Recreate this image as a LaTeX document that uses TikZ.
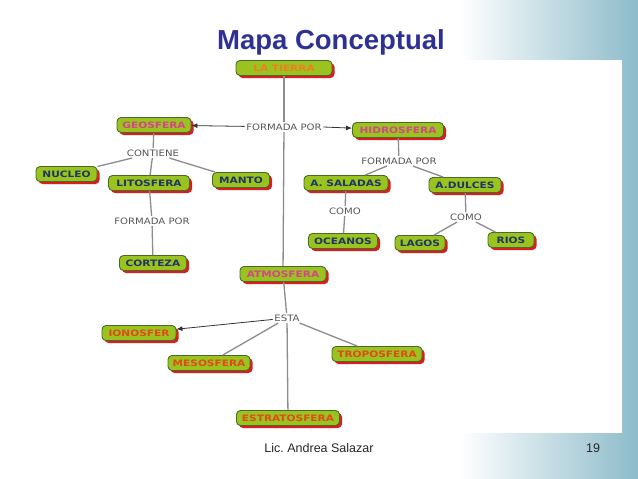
\documentclass[tikz,border=0pt]{standalone}
\usepackage{fontspec}
\setmainfont{Liberation Sans}
\newfontfamily\boxfont[FakeStretch=1.2]{DejaVu Sans}
\newfontfamily\labfont[FakeStretch=1.15]{DejaVu Sans}
\usetikzlibrary{shadows,arrows.meta}
\definecolor{boxfill}{HTML}{9BC31F}
\definecolor{boxline}{HTML}{4A6A2A}
\definecolor{shred}{HTML}{D81E1E}
\definecolor{tpink}{HTML}{D6438F}
\definecolor{tnavy}{HTML}{1E3566}
\definecolor{torange}{HTML}{E2481C}
\definecolor{tlorange}{HTML}{F07E20}
\definecolor{titleblue}{HTML}{2E3192}
\definecolor{teal1}{HTML}{8DBBCA}
\definecolor{lingray}{HTML}{8C8C8C}
\definecolor{labgray}{HTML}{555555}
\frenchspacing
\begin{document}
\begin{tikzpicture}[x=1pt,y=-1pt,
  cbox/.style={draw=boxline, line width=0.9pt, fill=boxfill, rounded corners=4pt,
    minimum height=15pt, inner sep=0pt,
    font=\boxfont\bfseries\fontsize{8.8}{10}\selectfont,
    drop shadow={shadow xshift=2.5pt, shadow yshift=-2.5pt, fill=shred, opacity=1}},
  lbl/.style={font=\labfont\fontsize{8.8}{10}\selectfont, text=labgray, inner sep=1.5pt},
  conn/.style={draw=lingray, line width=1.3pt},
  arr/.style={draw=black!80, line width=0.8pt, -{Latex[length=6pt,width=5pt]}}
]
\useasboundingbox (0,0) rectangle (638,479);
% background
\shade[left color=white, right color=teal1] (460,0) rectangle (638,479);
\fill[white] (0,60) rectangle (622,433);
\node[anchor=base, text=titleblue, font=\bfseries\fontsize{27.5}{31}\selectfont] (title) at (331,49) {Mapa Conceptual};
\node[anchor=base, text=black!85, font=\fontsize{12.5}{14}\selectfont] (author) at (319,452) {Lic. Andrea Salazar};
\node[anchor=base, text=black!85, font=\fontsize{12.5}{14}\selectfont] (page) at (593,452) {19};

% concept boxes
\node[cbox, minimum width=96pt, text=tlorange] (tierra) at (284,68) {LA TIERRA};
\node[cbox, minimum width=74pt, text=tpink] (geo) at (154,125) {GEOSFERA};
\node[cbox, minimum width=91pt, text=tpink] (hidro) at (398,130) {HIDROSFERA};
\node[cbox, minimum width=61pt, text=tnavy] (nucleo) at (66.5,174) {NUCLEO};
\node[cbox, minimum width=81pt, text=tnavy] (lito) at (149,183) {LITOSFERA};
\node[cbox, minimum width=57pt, text=tnavy] (manto) at (241,180) {MANTO};
\node[cbox, minimum width=67pt, text=tnavy] (corteza) at (153,263) {CORTEZA};
\node[cbox, minimum width=86pt, text=tpink] (atmos) at (283,274) {ATMOSFERA};
\node[cbox, minimum width=84pt, text=tnavy] (saladas) at (346,183) {A. SALADAS};
\node[cbox, minimum width=72pt, text=tnavy] (dulces) at (465,185) {A.DULCES};
\node[cbox, minimum width=69pt, text=tnavy] (oceanos) at (343,241) {OCEANOS};
\node[cbox, minimum width=50pt, text=tnavy] (lagos) at (420,243) {LAGOS};
\node[cbox, minimum width=46pt, text=tnavy] (rios) at (511,240) {RIOS};
\node[cbox, minimum width=74pt, text=torange] (iono) at (139,333) {IONOSFER};
\node[cbox, minimum width=82pt, text=torange] (meso) at (209,363) {MESOSFERA};
\node[cbox, minimum width=90pt, text=torange] (tropo) at (377,354) {TROPOSFERA};
\node[cbox, minimum width=103pt, text=torange] (estrato) at (288,418) {ESTRATOSFERA};

% linking phrases
\node[lbl] (fp1) at (284,127) {FORMADA POR};
\node[lbl] (contiene) at (153,153) {CONTIENE};
\node[lbl] (fp2) at (152,221) {FORMADA POR};
\node[lbl] (fp3) at (399,161) {FORMADA POR};
\node[lbl] (como1) at (345,211) {COMO};
\node[lbl] (como2) at (466,217) {COMO};
\node[lbl] (esta) at (287,318) {ESTA};

% connectors
\draw[conn] (tierra) -- (fp1);
\draw[conn] (fp1) -- (atmos);
\draw[arr] (fp1) -- (geo);
\draw[arr] (fp1.east) -- (hidro);
\draw[conn] (geo) -- (contiene);
\draw[conn] (contiene) -- (nucleo);
\draw[conn] (contiene) -- (lito);
\draw[conn] (contiene) -- (manto);
\draw[conn] (lito) -- (fp2);
\draw[conn] (fp2) -- (corteza);
\draw[conn] (hidro) -- (fp3);
\draw[conn] (fp3) -- (saladas);
\draw[conn] (fp3) -- (dulces);
\draw[conn] (saladas) -- (como1);
\draw[conn] (como1) -- (oceanos);
\draw[conn] (dulces) -- (como2);
\draw[conn] (como2) -- (lagos);
\draw[conn] (como2) -- (rios);
\draw[conn] (atmos) -- (esta);
\draw[arr] (esta) -- (iono);
\draw[conn] (esta) -- (meso);
\draw[conn] (esta) -- (tropo);
\draw[conn] (esta) -- (estrato);
\end{tikzpicture}
\end{document}
